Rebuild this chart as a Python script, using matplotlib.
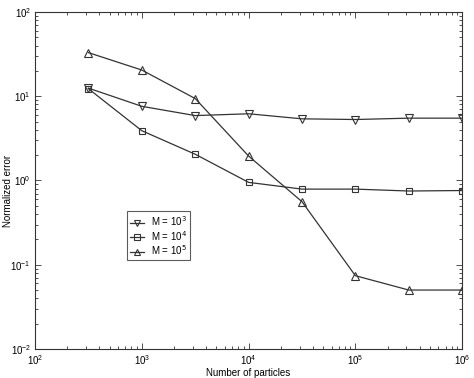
import numpy as np
import matplotlib
matplotlib.use("Agg")
import matplotlib.pyplot as plt

plt.rcParams["font.family"] = ["Liberation Sans", "DejaVu Sans"]

particles = [316, 1000, 3162, 10000, 31623, 100000, 316228, 1000000]
err_m3 = [12.5, 7.6, 5.9, 6.2, 5.4, 5.3, 5.5, 5.5]
err_m4 = [12.3, 3.9, 2.05, 0.95, 0.79, 0.79, 0.75, 0.76]
err_m5 = [33, 20.5, 9.4, 1.95, 0.56, 0.074, 0.05, 0.05]

fig = plt.figure(figsize=(4.74, 3.78), dpi=100)
ax = fig.add_axes([0.074, 0.077, 0.901, 0.891])

kw = dict(color="#333333", linewidth=0.9, markerfacecolor="none",
          markeredgecolor="#333333", markeredgewidth=0.8)
ax.loglog(particles, err_m3, marker="v", markersize=6, label=r"M = 10$^3$", **kw)
ax.loglog(particles, err_m4, marker="s", markersize=5, label=r"M = 10$^4$", **kw)
ax.loglog(particles, err_m5, marker="^", markersize=6, label=r"M = 10$^5$", **kw)

ax.set_xlim(1e2, 1e6)
ax.set_ylim(1e-2, 1e2)
ax.set_xlabel("Number of particles", fontsize=7, labelpad=1)
ax.set_ylabel("Normalized error", fontsize=7, va="center")
ax.yaxis.set_label_coords(-0.064, 0.47)
ax.tick_params(which="both", direction="in", top=True, right=True,
               labelsize=7, width=0.6, color="#333333", pad=3)
ax.tick_params(which="major", length=4)
ax.tick_params(which="minor", length=2)
for s in ax.spines.values():
    s.set_linewidth(0.8)
    s.set_color("#333333")

leg = ax.legend(loc="upper left", bbox_to_anchor=(0.215, 0.408), fontsize=7,
                frameon=True, fancybox=False, edgecolor="#333333",
                handlelength=1.5, borderpad=0.3, labelspacing=0.08,
                handletextpad=0.7, borderaxespad=0)
leg.get_frame().set_linewidth(0.8)
for h in leg.legend_handles:
    h.set_markersize(4.5)

fig.savefig("out.png", dpi=100)
